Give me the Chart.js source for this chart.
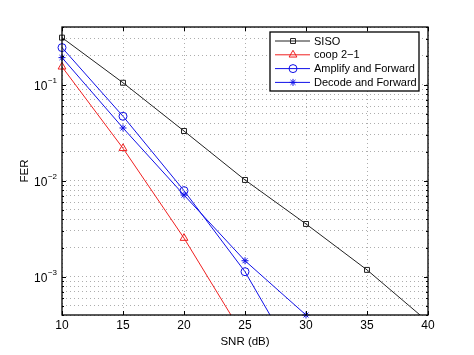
<!DOCTYPE html>
<html>
<head>
<meta charset="utf-8">
<script src="https://cdn.jsdelivr.net/npm/chart.js@4.4.0/dist/chart.umd.min.js"></script>
<style>
  html, body { margin: 0; padding: 0; background: #fff; }
  #wrap { width: 474px; height: 355px; }
</style>
</head>
<body>
<div id="wrap"><canvas id="c" width="474" height="355"></canvas></div>
<script>
// ---- data ----
const snr        = [10, 15, 20, 25, 30, 35, 40];
const sisoFER    = [0.31, 0.105, 0.033, 0.0102, 0.00355, 0.00118, 0.00034];
const coopSNR    = [10, 15, 20, 25];
const coopFER    = [0.154, 0.0218, 0.00253, 0.00023];
const afSNR      = [10, 15, 20, 25, 30];
const afFER      = [0.244, 0.047, 0.0079, 0.00113, 0.00009];
const dfSNR      = [10, 15, 20, 25, 30];
const dfFER      = [0.192, 0.0355, 0.0071, 0.00147, 0.0004];
const xTicks     = [10, 15, 20, 25, 30, 35, 40];
const yDecades   = [-1, -2, -3];
const seriesNames = ['SISO', 'coop 2\u22121', 'Amplify and Forward', 'Decode and Forward'];

const FONT = '"Liberation Sans", Arial, Helvetica, sans-serif';
const pts = (xs, ys) => xs.map((x, i) => ({ x: x, y: ys[i] }));

const yMin = 4e-4, yMax = 0.4;
function yTickValues() {
  const out = [];
  for (let e = -4; e <= -1; e++) {
    for (let m = 1; m <= 9; m++) {
      const v = m * Math.pow(10, e);
      if (v >= yMin * 0.999 && v <= yMax * 1.001) out.push({ value: v, major: m === 1 });
    }
  }
  return out;
}

const decor = {
  id: 'decor',
  afterDraw(chart) {
    const ctx = chart.ctx;
    const a = chart.chartArea;
    const xs = chart.scales.x, ys = chart.scales.y;
    ctx.save();
    // tick marks inside box
    ctx.strokeStyle = '#000';
    ctx.lineWidth = 1;
    ctx.setLineDash([]);
    ctx.beginPath();
    xTicks.forEach(t => {
      const px = Math.round(xs.getPixelForValue(t)) + 0.5;
      ctx.moveTo(px, a.bottom); ctx.lineTo(px, a.bottom - 4);
      ctx.moveTo(px, a.top); ctx.lineTo(px, a.top + 4);
    });
    yTickValues().forEach(t => {
      const py = Math.round(ys.getPixelForValue(t.value)) + 0.5;
      const L = t.major ? 4 : 2;
      ctx.moveTo(a.left, py); ctx.lineTo(a.left + L, py);
      ctx.moveTo(a.right, py); ctx.lineTo(a.right - L, py);
    });
    ctx.stroke();
    // box
    ctx.strokeStyle = '#000';
    ctx.lineWidth = 1.3;
    ctx.strokeRect(a.left, a.top, a.right - a.left, a.bottom - a.top);

    // x tick labels
    ctx.fillStyle = '#000';
    ctx.font = '12px ' + FONT;
    ctx.textAlign = 'center';
    ctx.textBaseline = 'top';
    xTicks.forEach(t => ctx.fillText(String(t), xs.getPixelForValue(t), a.bottom + 5));

    // y tick labels 10^e
    yDecades.forEach(e => {
      const py = ys.getPixelForValue(Math.pow(10, e));
      ctx.font = '8px ' + FONT;
      const sup = '\u2212' + Math.abs(e);
      const supW = ctx.measureText(sup).width;
      const right = a.left - 5;
      ctx.textAlign = 'left';
      ctx.textBaseline = 'alphabetic';
      ctx.fillText(sup, right - supW, py - 2);
      ctx.font = '12px ' + FONT;
      const baseW = ctx.measureText('10').width;
      ctx.fillText('10', right - supW - baseW - 0.5, py + 5);
    });

    // axis titles
    ctx.font = '11.5px ' + FONT;
    ctx.textAlign = 'center';
    ctx.textBaseline = 'middle';
    ctx.fillText('SNR (dB)', (a.left + a.right) / 2, a.bottom + 27);
    ctx.save();
    ctx.translate(25, (a.top + a.bottom) / 2);
    ctx.rotate(-Math.PI / 2);
    ctx.fillText('FER', 0, 0);
    ctx.restore();

    // legend
    const lx = 270, ly = 32, lw = 149, lh = 59;
    ctx.fillStyle = '#fff';
    ctx.fillRect(lx, ly, lw, lh);
    ctx.strokeStyle = '#000';
    ctx.lineWidth = 1.3;
    ctx.strokeRect(lx, ly, lw, lh);
    chart.data.datasets.forEach((ds, i) => {
      const cy = ly + 9 + i * 13.8;
      ctx.strokeStyle = ds.borderColor;
      ctx.lineWidth = 1;
      ctx.beginPath();
      ctx.moveTo(lx + 5, cy); ctx.lineTo(lx + 40, cy);
      ctx.stroke();
      ctx.fillStyle = 'rgba(0,0,0,0)';
      ctx.strokeStyle = ds.borderColor;
      Chart.helpers.drawPoint(ctx, {
        pointStyle: ds.pointStyle, rotation: 0, radius: ds.pointRadius,
        borderWidth: 1
      }, lx + 23, cy);
      ctx.fillStyle = '#000';
      ctx.font = '11px ' + FONT;
      ctx.textAlign = 'left';
      ctx.textBaseline = 'middle';
      ctx.fillText(ds.label, lx + 44, cy + 0.5);
    });
    ctx.restore();
  }
};

const gridOpts = { color: 'rgba(0,0,0,0.32)', lineWidth: 1, drawTicks: false };
const borderOpts = { display: false, dash: [1, 3] };
const clipStd = { left: 6, right: 0, top: 6, bottom: 0 };

new Chart(document.getElementById('c'), {
  type: 'scatter',
  data: {
    datasets: [
      { label: seriesNames[0], data: pts(snr, sisoFER), borderColor: '#222', backgroundColor: 'rgba(0,0,0,0)',
        pointStyle: 'rect', pointRadius: 3.5, pointBorderWidth: 1, borderWidth: 1, showLine: true, clip: clipStd },
      { label: seriesNames[1], data: pts(coopSNR, coopFER), borderColor: '#f02020', backgroundColor: 'rgba(0,0,0,0)',
        pointStyle: 'triangle', pointRadius: 4.5, pointBorderWidth: 1, borderWidth: 1, showLine: true, clip: clipStd },
      { label: seriesNames[2], data: pts(afSNR, afFER), borderColor: '#1010e8', backgroundColor: 'rgba(0,0,0,0)',
        pointStyle: 'circle', pointRadius: 4, pointBorderWidth: 1, borderWidth: 1, showLine: true, clip: clipStd },
      { label: seriesNames[3], data: pts(dfSNR, dfFER), borderColor: '#1010e8', backgroundColor: 'rgba(0,0,0,0)',
        pointStyle: 'star', pointRadius: 3.5, pointBorderWidth: 1, borderWidth: 1, showLine: true,
        clip: { left: 6, right: 6, top: 6, bottom: 6 } }
    ]
  },
  options: {
    responsive: false,
    animation: false,
    events: [],
    layout: { padding: { left: 62, right: 46, top: 27, bottom: 40 } },
    plugins: { legend: { display: false }, tooltip: { enabled: false } },
    elements: { line: { tension: 0 } },
    scales: {
      x: {
        type: 'linear', min: 10, max: 40,
        afterBuildTicks: s => { s.ticks = xTicks.map(v => ({ value: v })); },
        ticks: { display: false },
        grid: gridOpts,
        border: borderOpts
      },
      y: {
        type: 'logarithmic', min: yMin, max: yMax,
        afterBuildTicks: s => { s.ticks = yTickValues(); },
        ticks: { display: false },
        grid: gridOpts,
        border: borderOpts
      }
    }
  },
  plugins: [decor]
});
</script>
</body>
</html>
